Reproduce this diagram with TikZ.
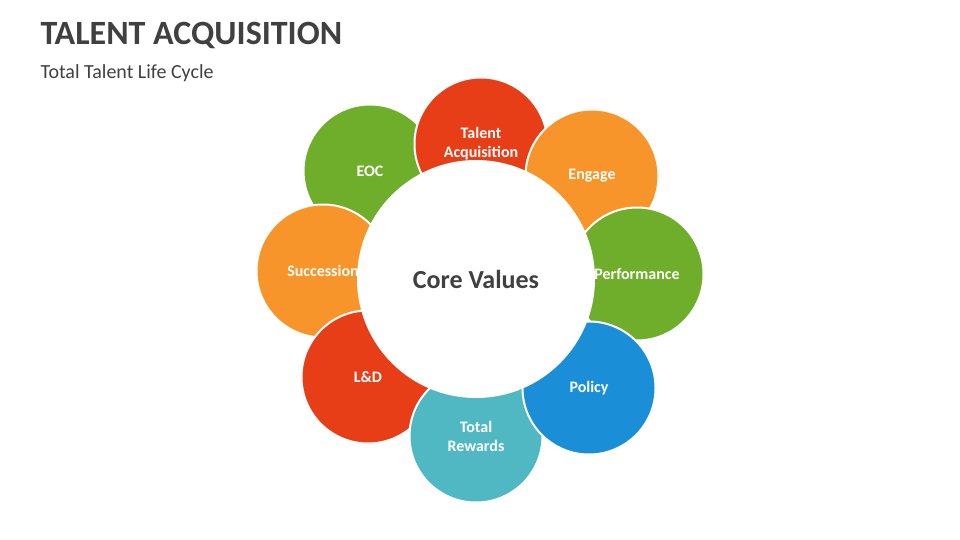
\documentclass[tikz,border=0pt]{standalone}
\usepackage{fontspec}
\setmainfont{Carlito}
\definecolor{cred}{HTML}{E83E17}
\definecolor{corange}{HTML}{F7952A}
\definecolor{cgreen}{HTML}{6EAE2A}
\definecolor{cblue}{HTML}{1A8ED6}
\definecolor{cteal}{HTML}{4FB8C2}
\definecolor{ctext}{HTML}{404040}
\begin{document}
\begin{tikzpicture}[x=1pt,y=-1pt,
  petal/.style={circle,minimum size=133pt,inner sep=0pt,draw=white,line width=2pt,text=white,font=\fontsize{16}{19}\selectfont\bfseries,align=center}]
\useasboundingbox (0,0) rectangle (960,540);
\node[anchor=west,text=ctext,font=\fontsize{34}{40}\selectfont\bfseries] (title) at (37,35) {TALENT ACQUISITION};
\node[anchor=west,text=ctext,font=\fontsize{20}{24}\selectfont] (sub) at (37,73) {Total Talent Life Cycle};
\node[petal,fill=cgreen] (eoc) at (370,171) {EOC};
\node[petal,fill=corange] (succ) at (323,271) {Succession};
\node[petal,fill=cred] (ld) at (368,377) {L\&D};
\node[petal,fill=cteal] (tr) at (476,436) {Total\\Rewards};
\node[petal,fill=cred] (ta) at (481,144) {Talent\\Acquisition};
\node[petal,fill=corange] (eng) at (592,176) {Engage};
\node[petal,fill=cgreen] (perf) at (637,274) {Performance};
\node[petal,fill=cblue] (pol) at (589,388) {Policy};
\node[circle,minimum size=238pt,inner sep=0pt,fill=white,text=ctext,font=\fontsize{26}{30}\selectfont\bfseries] (core) at (476,279) {Core Values};
\end{tikzpicture}
\end{document}
